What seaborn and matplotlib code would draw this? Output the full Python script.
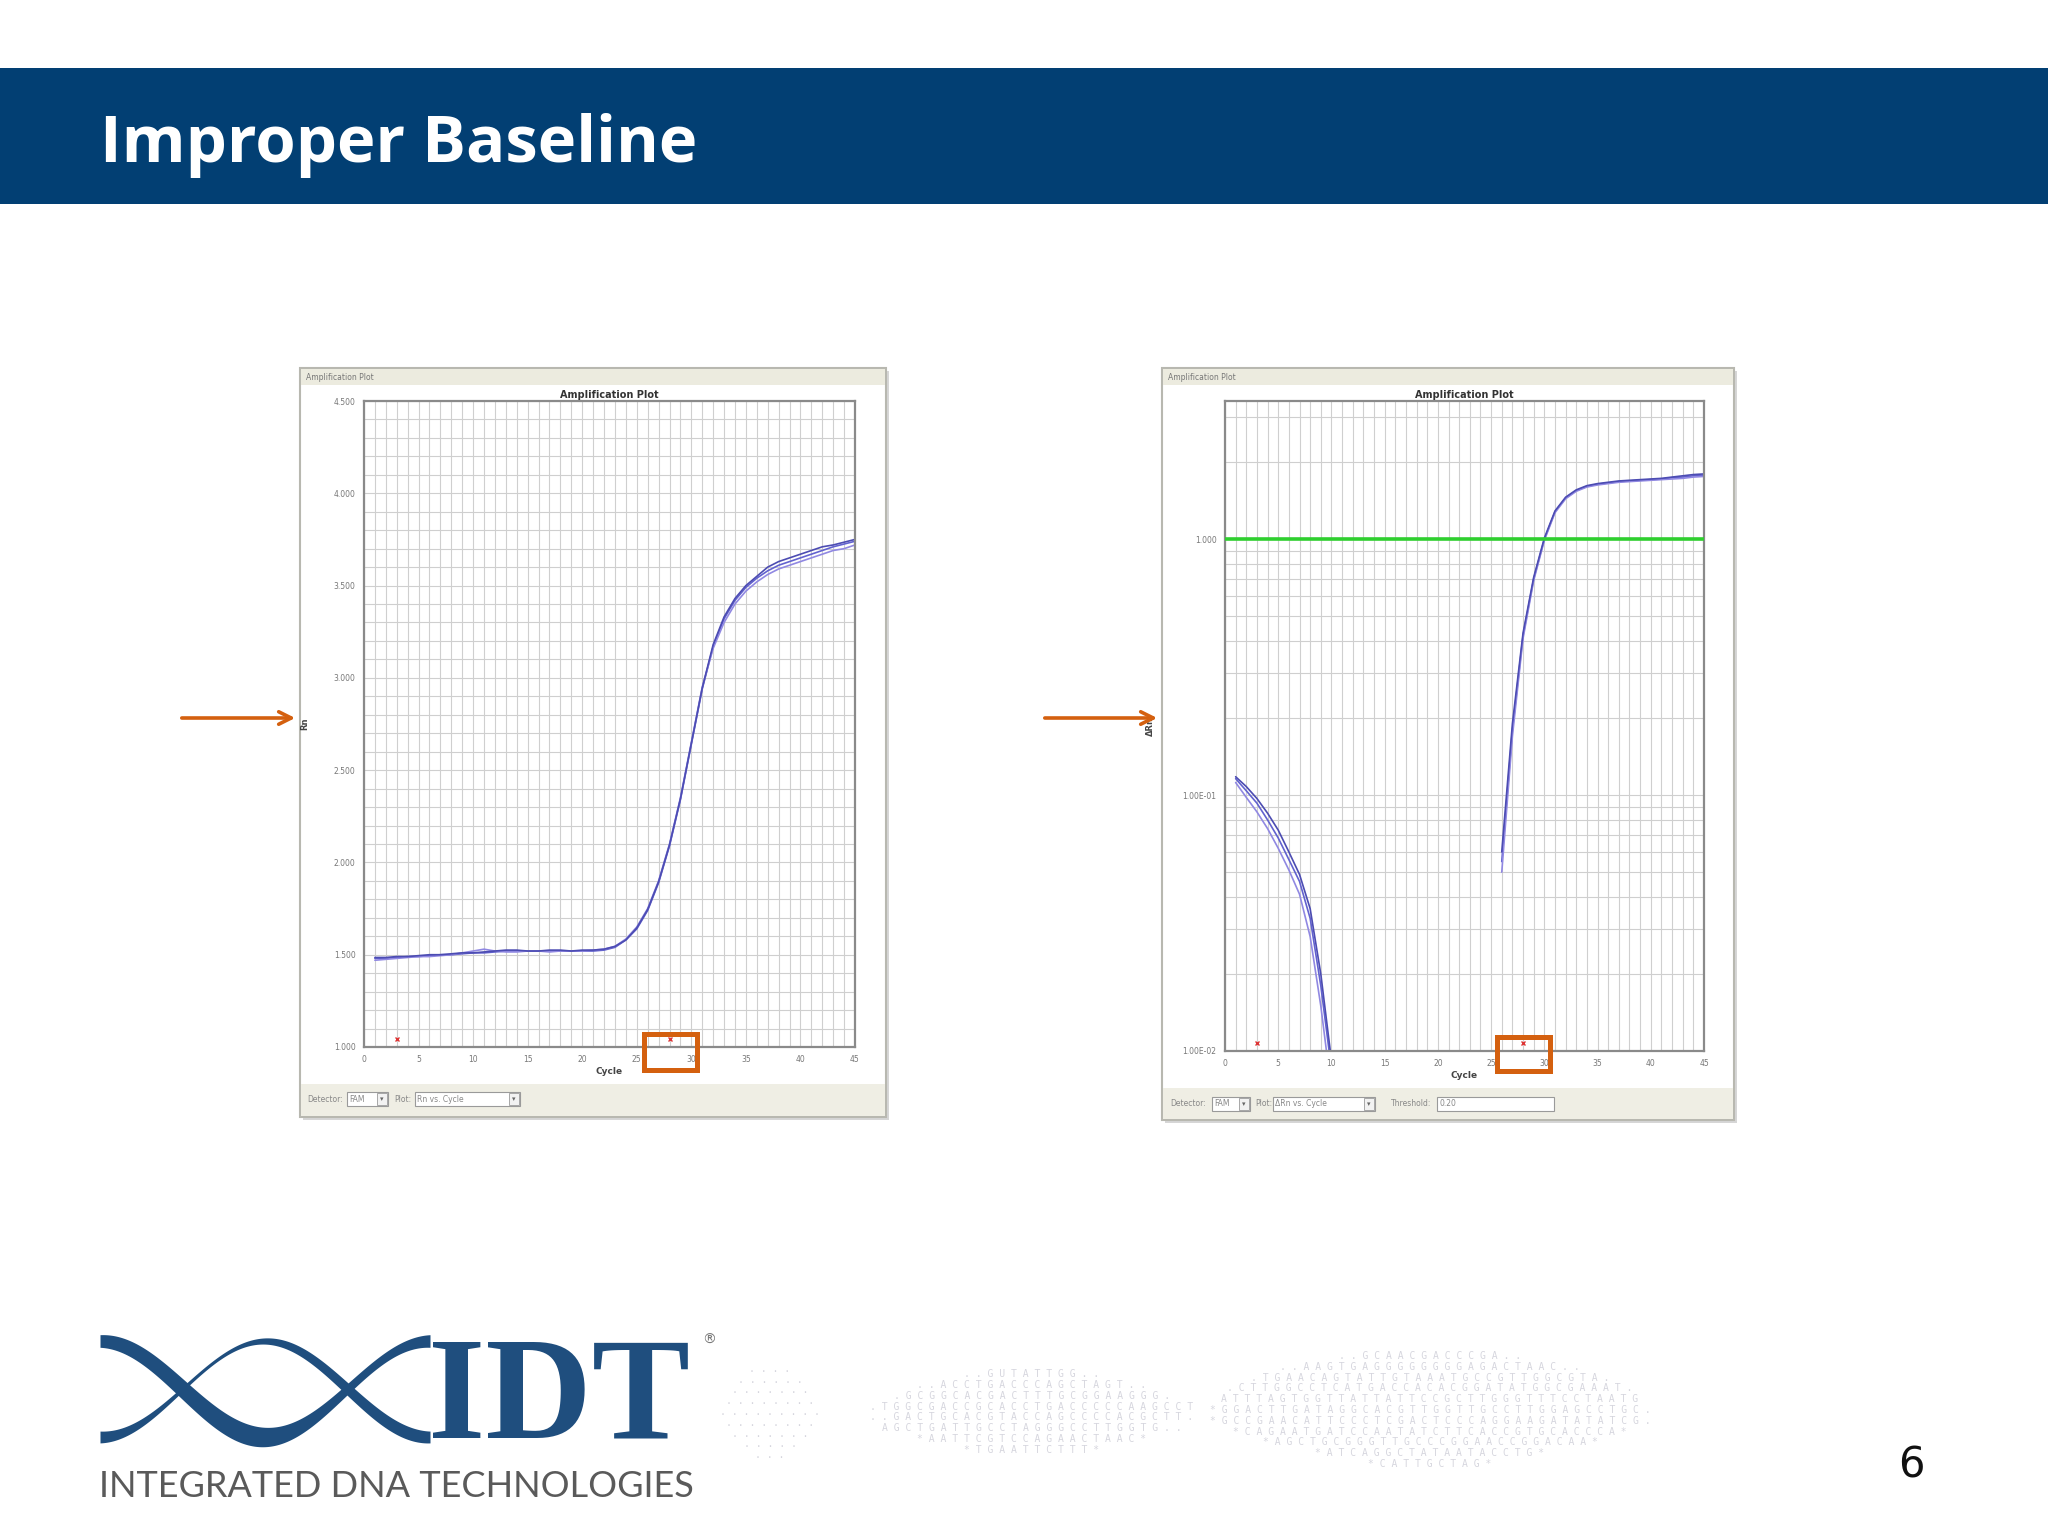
import numpy as np
import pandas as pd
import matplotlib.pyplot as plt
import matplotlib.patches as mpatches
import matplotlib.transforms as mtransforms
import seaborn as sns

# -----------------------------------------
# Data
# -----------------------------------------
cycles = list(range(1, 46))

# Rn vs. Cycle (left plot), three overlapping replicates
rn_rep1 = [1.48, 1.48, 1.485, 1.49, 1.49, 1.495, 1.50, 1.50, 1.505, 1.51,
           1.51, 1.515, 1.52, 1.52, 1.52, 1.52, 1.52, 1.52, 1.52, 1.52,
           1.52, 1.525, 1.54, 1.58, 1.64, 1.74, 1.89, 2.09, 2.34, 2.64,
           2.94, 3.17, 3.32, 3.42, 3.49, 3.54, 3.58, 3.61, 3.63, 3.65,
           3.67, 3.69, 3.71, 3.725, 3.74]
rn_rep2 = [1.47, 1.475, 1.48, 1.485, 1.49, 1.49, 1.495, 1.50, 1.51, 1.52,
           1.53, 1.52, 1.515, 1.515, 1.52, 1.52, 1.515, 1.52, 1.52, 1.52,
           1.525, 1.53, 1.545, 1.585, 1.65, 1.75, 1.90, 2.10, 2.35, 2.65,
           2.95, 3.16, 3.30, 3.40, 3.47, 3.52, 3.56, 3.59, 3.61, 3.63,
           3.65, 3.67, 3.69, 3.70, 3.72]
rn_rep3 = [1.485, 1.485, 1.49, 1.49, 1.495, 1.50, 1.50, 1.505, 1.51, 1.51,
           1.515, 1.52, 1.525, 1.525, 1.52, 1.52, 1.525, 1.525, 1.52, 1.525,
           1.525, 1.53, 1.545, 1.58, 1.645, 1.745, 1.895, 2.095, 2.345, 2.645,
           2.945, 3.18, 3.33, 3.43, 3.50, 3.55, 3.60, 3.63, 3.65, 3.67,
           3.69, 3.71, 3.72, 3.735, 3.75]

# dRn vs. Cycle (right plot, log scale): early drop and late rise
drop_cycles = [1, 2, 3, 4, 5, 6, 7, 8, 9, 10]
drn_drop_rep1 = [0.116, 0.104, 0.093, 0.080, 0.068, 0.056, 0.046, 0.033, 0.018, 0.0085]
drn_drop_rep2 = [0.112, 0.098, 0.086, 0.074, 0.062, 0.051, 0.041, 0.028, 0.015, 0.007]
drn_drop_rep3 = [0.118, 0.108, 0.097, 0.085, 0.073, 0.060, 0.049, 0.036, 0.020, 0.0092]

rise_cycles = list(range(26, 46))
drn_rise_rep1 = [0.055, 0.18, 0.42, 0.70, 1.00, 1.28, 1.45, 1.55, 1.61, 1.64,
                 1.66, 1.68, 1.69, 1.70, 1.71, 1.72, 1.74, 1.75, 1.77, 1.78]
drn_rise_rep2 = [0.050, 0.17, 0.41, 0.69, 0.99, 1.27, 1.44, 1.54, 1.60, 1.63,
                 1.65, 1.67, 1.68, 1.69, 1.70, 1.71, 1.72, 1.73, 1.75, 1.76]
drn_rise_rep3 = [0.060, 0.19, 0.43, 0.71, 1.01, 1.29, 1.46, 1.56, 1.62, 1.65,
                 1.67, 1.69, 1.70, 1.71, 1.72, 1.73, 1.75, 1.77, 1.79, 1.80]

threshold = 1.0
baseline_marks = [3, 28]

rn_ticks = [1.0, 1.5, 2.0, 2.5, 3.0, 3.5, 4.0, 4.5]
rn_labels = ["1.000", "1.500", "2.000", "2.500", "3.000", "3.500", "4.000", "4.500"]
drn_ticks = [0.01, 0.1, 1.0]
drn_labels = ["1.00E-02", "1.00E-01", "1.000"]
cycle_ticks = list(range(0, 46, 5))

# faint DNA-sequence watermark in the footer
lens_left = [
    "..GUTATTGG..",
    "..ACCTGACCCAGCTAGT..",
    ".GCGGCACGACTTTGCGGAAGGG.",
    ".TGGCGACCGCACCTGACCCCCAAGCCT",
    "..GACTGCACGTACCAGCCCCACGCTT.",
    "AGCTGATTGCCTAGGGCCTTGGTG..",
    "*AATTCGTCCAGAACTAAC*",
    "*TGAATTCTTT*",
]
lens_right = [
    "..GCAACGACCCGA..",
    "..AAGTGAGGGGGGGGAGACTAAC..",
    ".TGAACAGTATTGTAAATGCCGTTGGCGTA.",
    ".CTTGGCCTCATGACCACACGGATATGGCGAAAT.",
    "ATTTAGTGGTTATTATTCCGCTTGGGTTTCCTAATG",
    "*GGACTTGATAGGCACGTTGGTTGCCTTGGAGCCTGC.",
    "*GCCGAACATTCCCTCGACTCCCAGGAAGATATATCG.",
    "*CAGAATGATCCAATATCTTCACCGTGCACCCA*",
    "*AGCTGCGGGTTGCCCGGAACCGGACAA*",
    "*ATCAGGCTATAATACCTG*",
    "*CATTGCTAG*",
]
dot_rows = [". . . .", ". . . . . .", ". . . . . . .", ". . . . . . . .",
            ". . . . . . . . .", ". . . . . . . .", ". . . . . . .", ". . . . .", ". . ."]

# -----------------------------------------
# Tables for seaborn
# -----------------------------------------
rn_df = pd.DataFrame({
    "Cycle": cycles * 3,
    "Rn": rn_rep1 + rn_rep2 + rn_rep3,
    "Well": ["A1"] * 45 + ["A2"] * 45 + ["A3"] * 45,
})

drn_df = pd.concat([
    pd.DataFrame({"Cycle": drop_cycles, "dRn": vals, "Well": w, "Seg": "drop"})
    for w, vals in zip(["A1", "A2", "A3"], [drn_drop_rep1, drn_drop_rep2, drn_drop_rep3])
] + [
    pd.DataFrame({"Cycle": rise_cycles, "dRn": vals, "Well": w, "Seg": "rise"})
    for w, vals in zip(["A1", "A2", "A3"], [drn_rise_rep1, drn_rise_rep2, drn_rise_rep3])
], ignore_index=True)

well_colors = {"A1": "#6262cf", "A2": "#9088e2", "A3": "#4c4cb2"}

# -----------------------------------------
# Figure set-up (pixel helpers for the slide layout)
# -----------------------------------------
sns.set_style("white")
plt.rcParams['font.family'] = ['DejaVu Sans']

W, H = 2048, 1536
fig = plt.figure(figsize=(W / 100, H / 100), dpi=100)
fig.patch.set_facecolor("white")


def box(x0, y0, x1, y1):
    return [x0 / W, 1 - y1 / H, (x1 - x0) / W, (y1 - y0) / H]


bg = fig.add_axes([0, 0, 1, 1], zorder=0)
bg.set_xlim(0, W)
bg.set_ylim(H, 0)
bg.axis("off")

fg = fig.add_axes([0, 0, 1, 1], zorder=10)
fg.set_xlim(0, W)
fg.set_ylim(H, 0)
fg.axis("off")
fg.patch.set_alpha(0)

# header bar
bg.add_patch(mpatches.Rectangle((0, 68), W, 136, color="#023f73", lw=0))
bg.text(100, 162, "Improper Baseline", color="white", fontsize=47,
        fontweight="bold", family="Open Sans", va="baseline", ha="left")

# -----------------------------------------
# Software-window frames behind the plots
# -----------------------------------------
def draw_window(x0, y0, x1, y1, strip_h):
    bg.add_patch(mpatches.Rectangle((x0 + 3, y0 + 3), x1 - x0, y1 - y0,
                                    color="#d6d6d6", lw=0))
    bg.add_patch(mpatches.Rectangle((x0, y0), x1 - x0, y1 - y0,
                                    facecolor="white", edgecolor="#b8b8b0", lw=1.5))
    bg.add_patch(mpatches.Rectangle((x0 + 1, y0 + 1), x1 - x0 - 2, 16,
                                    facecolor="#ecebdf", lw=0))
    bg.add_patch(mpatches.Rectangle((x0 + 1, y1 - strip_h), x1 - x0 - 2, strip_h - 1,
                                    facecolor="#efeee4", lw=0))
    bg.text(x0 + 6, y0 + 9, "Amplification Plot", fontsize=5.5, color="#777777",
            va="center")


def widget(x0, x1, yc, txt, arrow=True):
    bg.add_patch(mpatches.Rectangle((x0, yc - 7), x1 - x0, 14, facecolor="white",
                                    edgecolor="#9a9a9a", lw=0.8))
    bg.text(x0 + 2, yc, txt, fontsize=5.5, color="#888888", va="center")
    if arrow:
        bg.add_patch(mpatches.Rectangle((x1 - 11, yc - 6), 10, 12, facecolor="#f2f2f2",
                                        edgecolor="#9a9a9a", lw=0.6))
        bg.text(x1 - 6, yc, "▾", fontsize=5, color="#666666", va="center", ha="center")


draw_window(300, 368, 886, 1117, 33)
bg.text(307, 1099, "Detector:", fontsize=5.5, color="#888888", va="center")
widget(347, 388, 1099, "FAM")
bg.text(394, 1099, "Plot:", fontsize=5.5, color="#888888", va="center")
widget(415, 520, 1099, "Rn vs. Cycle")

draw_window(1162, 368, 1734, 1120, 32)
bg.text(1170, 1104, "Detector:", fontsize=5.5, color="#888888", va="center")
widget(1212, 1250, 1104, "FAM")
bg.text(1255, 1104, "Plot:", fontsize=5.5, color="#888888", va="center")
widget(1273, 1375, 1104, "ΔRn vs. Cycle")
bg.text(1391, 1104, "Threshold:", fontsize=5.5, color="#888888", va="center")
widget(1437, 1554, 1104, "0.20", arrow=False)


# -----------------------------------------
# Shared axis styling (SDS-like grid)
# -----------------------------------------
def style_axes(ax):
    ax.set_xlim(0, 45)
    ax.set_xticks(cycle_ticks)
    ax.set_xticklabels([str(c) for c in cycle_ticks])
    ax.set_xticks(range(0, 46), minor=True)
    ax.grid(True, which="both", color="#cfcfcf", lw=0.8)
    for s in ax.spines.values():
        s.set_color("#8a8a8a")
        s.set_linewidth(1.6)
    ax.tick_params(which="major", labelsize=5.5, labelcolor="#777777", length=3,
                   color="#8a8a8a", pad=3)
    ax.tick_params(which="minor", length=0)
    ax.set_xlabel("Cycle", fontsize=6.5, fontweight="bold", color="#444444", labelpad=2)
    ax.set_title("Amplification Plot", fontsize=7, fontweight="bold",
                 color="#333333", pad=2)
    ax.set_axisbelow(True)
    trans = mtransforms.blended_transform_factory(ax.transData, ax.transAxes)
    ax.plot(baseline_marks, [0.012] * len(baseline_marks), "x", color="#dd3333",
            ms=3, mew=1, transform=trans, clip_on=False)


# -----------------------------------------
# Left: Rn vs. Cycle
# -----------------------------------------
ax1 = fig.add_axes(box(364, 401, 855, 1047), zorder=2)
sns.lineplot(data=rn_df, x="Cycle", y="Rn", hue="Well", palette=well_colors,
             estimator=None, lw=1.2, legend=False, ax=ax1)
ax1.set_ylim(1.0, 4.5)
ax1.set_yticks(rn_ticks)
ax1.set_yticklabels(rn_labels)
ax1.set_yticks(np.arange(1.0, 4.51, 0.1), minor=True)
style_axes(ax1)
ax1.set_ylabel("Rn", fontsize=6, fontweight="bold", color="#444444", labelpad=18)

# -----------------------------------------
# Right: dRn vs. Cycle (log scale)
# -----------------------------------------
ax2 = fig.add_axes(box(1225, 401, 1704, 1051), zorder=2)
sns.lineplot(data=drn_df, x="Cycle", y="dRn", hue="Well", units="Seg",
             palette=well_colors, estimator=None, lw=1.2, legend=False, ax=ax2)
ax2.set_yscale("log")
ax2.set_ylim(0.01, 3.47)
ax2.set_yticks(drn_ticks)
ax2.set_yticklabels(drn_labels)
ax2.axhline(threshold, color="#2fcf2f", lw=2.6, zorder=3)
style_axes(ax2)
ax2.set_ylabel("ΔRn", fontsize=6, fontweight="bold", color="#444444", labelpad=20)

# -----------------------------------------
# Call-outs: arrows and orange boxes
# -----------------------------------------
orange = "#d4600f"
for x0, x1 in [(179, 298), (1042, 1160)]:
    fg.annotate("", xy=(x1, 718), xytext=(x0, 718),
                arrowprops=dict(arrowstyle="->,head_length=0.9,head_width=0.45",
                                color=orange, lw=2.6))
for x0, y0, x1, y1 in [(644, 1034, 697, 1070), (1497, 1037, 1550, 1071)]:
    fg.add_patch(mpatches.Rectangle((x0, y0), x1 - x0, y1 - y0, facecolor="none",
                                    edgecolor=orange, lw=3.6))

# -----------------------------------------
# IDT logo, DNA watermark and page number
# -----------------------------------------
navy = "#1f4e7e"
hx = np.linspace(100, 430, 300)
ph = 2 * np.pi * (hx - 100) / 330
mid, amp = 1389, 48
s1 = mid - amp * np.cos(ph)
s2 = mid + amp * np.cos(ph)
w1 = 5 + 6 * (1 + np.sin(ph - 0.6)) / 2
w2 = 2 + 5 * (1 - np.sin(ph - 0.6)) / 2
bg.fill_between(hx, s1 - w1, s1 + w1, color=navy, lw=0)
bg.fill_between(hx, s2 - w2, s2 + w2, color=navy, lw=0)
bg.text(428, 1438, "IDT", family="Liberation Serif", fontweight="bold",
        fontsize=106, color=navy, ha="left", va="baseline")
bg.text(702, 1340, "®", fontsize=10, color="#777777", ha="left", va="center")
bg.text(99, 1497, "INTEGRATED DNA TECHNOLOGIES", family="Lato",
        fontsize=26, color="#5a5a5a", ha="left", va="baseline")


def spaced(rows):
    return "\n".join(" ".join(r) for r in rows)


wm = dict(fontsize=7, color="#d6d6de", ha="center", va="center",
          family="DejaVu Sans Mono", multialignment="center", linespacing=1.1)
bg.text(1032, 1412, spaced(lens_left), **wm)
bg.text(1430, 1410, spaced(lens_right), **wm)
bg.text(770, 1412, "\n".join(dot_rows), **wm)

bg.text(1911, 1466, "6", fontsize=30, color="#111111", ha="center", va="center")

plt.savefig("out.png", dpi=100)
plt.close()
